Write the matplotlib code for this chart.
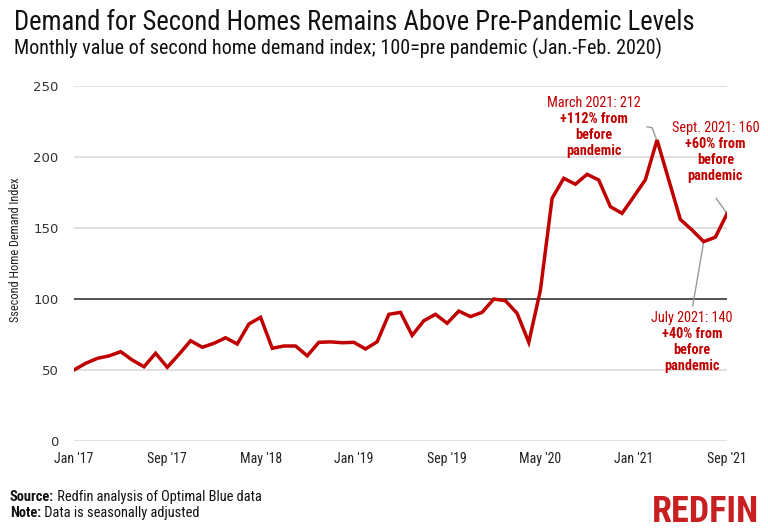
import matplotlib
matplotlib.use("Agg")
import matplotlib.pyplot as plt
import numpy as np

# monthly second home demand index, Jan 2017 .. Sep 2021
index_2017 = [50, 54.7, 58.2, 59.9, 62.9, 57, 52.3, 61.8, 51.9, 61, 70.6, 66]
index_2018 = [68.8, 72.7, 68.3, 82.4, 87.1, 65.3, 66.9, 66.9, 60, 69.5, 69.8, 69.2]
index_2019 = [69.5, 64.8, 69.9, 89.2, 90.6, 74.4, 84.7, 89.2, 82.9, 91.5, 87.6, 90.6]
index_2020 = [100, 98.8, 89.9, 69.5, 106.3, 170.9, 185, 180.8, 187.8, 183.8, 165, 160.3]
index_2021 = [172, 184, 212, 184, 156, 148.6, 140.4, 143.5, 160]

tick_labels = ["Jan '17", "Sep '17", "May '18", "Jan '19", "Sep '19",
               "May '20", "Jan '21", "Sep '21"]
y_ticks = [0, 50, 100, 150, 200, 250]

values = index_2017 + index_2018 + index_2019 + index_2020 + index_2021
months = np.arange(len(values))

RED = "#C00000"
FONT = ["Roboto Condensed", "Roboto", "DejaVu Sans"]

fig = plt.figure(figsize=(7.68, 5.31), dpi=100)
ax = fig.add_axes([74 / 768, 1 - 441 / 531, 653 / 768, 355 / 531])

# grid lines by hand, the 100 line is dark
for v in y_ticks:
    if v == 100:
        ax.axhline(v, color="#333333", lw=1.2, zorder=1)
    else:
        ax.axhline(v, color="#DDDDDD", lw=1.3, zorder=0)

ax.plot(months, values, color=RED, lw=2.5, zorder=3, solid_joinstyle="miter")

ax.set_xlim(0, len(values) - 1)
ax.set_ylim(0, 250)
for s in ax.spines.values():
    s.set_visible(False)

ax.set_xticks(months[::8])
ax.set_xticklabels(tick_labels, family=FONT, fontsize=10, color="#222222")
ax.set_yticks(y_ticks)
ax.set_yticklabels([str(v) for v in y_ticks], family="DejaVu Sans", fontsize=9.5, color="#333333")
ax.tick_params(axis="both", length=0)
ax.tick_params(axis="y", pad=11)
ax.tick_params(axis="x", pad=8)

ax.set_ylabel("Ssecond Home Demand Index", family=FONT, fontsize=8.8, color="#222222")
ax.yaxis.set_label_coords(-0.079, 0.54)

# annotations
def note(x, y, head, lines):
    ax.text(x, y, head, color=RED, family=FONT, fontsize=10.3, ha="center", va="center")
    for i, l in enumerate(lines):
        ax.text(x, y - 11.3 * (i + 1), l, color=RED, family=FONT, fontsize=10.3,
                weight="bold", ha="center", va="center")

note(44.6, 238, "March 2021: 212", ["+112% from", "before", "pandemic"])
note(55.0, 220.4, "Sept. 2021: 160", ["+60% from", "before", "pandemic"])
note(53.0, 86.8, "July 2021: 140", ["+40% from", "before", "pandemic"])

ax.plot([49.15, 49.58, 49.92], [221.3, 220.6, 213.2], color="#999999", lw=1, zorder=2)
ax.plot([55.07, 55.98], [170.9, 160.4], color="#999999", lw=1, zorder=2)
ax.plot([54.0, 53.06], [140.3, 95.1], color="#999999", lw=1, zorder=2)

# titles
fig.text(14 / 768, 1 - 23 / 531, "Demand for Second Homes Remains Above Pre-Pandemic Levels",
         family=FONT, fontsize=19.2, color="#111111", va="center")
fig.text(14 / 768, 1 - 48 / 531, "Monthly value of second home demand index; 100=pre pandemic (Jan.-Feb. 2020)",
         family=FONT, fontsize=14.5, color="#111111", va="center")

# footer, bold lead then regular text right after it
src = fig.text(10 / 768, 1 - 497 / 531, "Source:", family=FONT, fontsize=10.4,
               weight="bold", color="#111111", va="center")
nt = fig.text(10 / 768, 1 - 513 / 531, "Note:", family=FONT, fontsize=10.4,
              weight="bold", color="#111111", va="center")

fig.canvas.draw()
r = fig.canvas.get_renderer()
for t, rest in [(src, " Redfin analysis of Optimal Blue data"), (nt, " Data is seasonally adjusted")]:
    bb = t.get_window_extent(r)
    fig.text(bb.x1 / fig.bbox.width, t.get_position()[1], rest, family=FONT, fontsize=10.4,
             color="#111111", va="center")

fig.text(759 / 768, 1 / 531, "REDFIN", family=FONT, fontsize=26,
         weight="bold", color="#C82021", ha="right", va="bottom")

fig.savefig("out.png", dpi=100)
